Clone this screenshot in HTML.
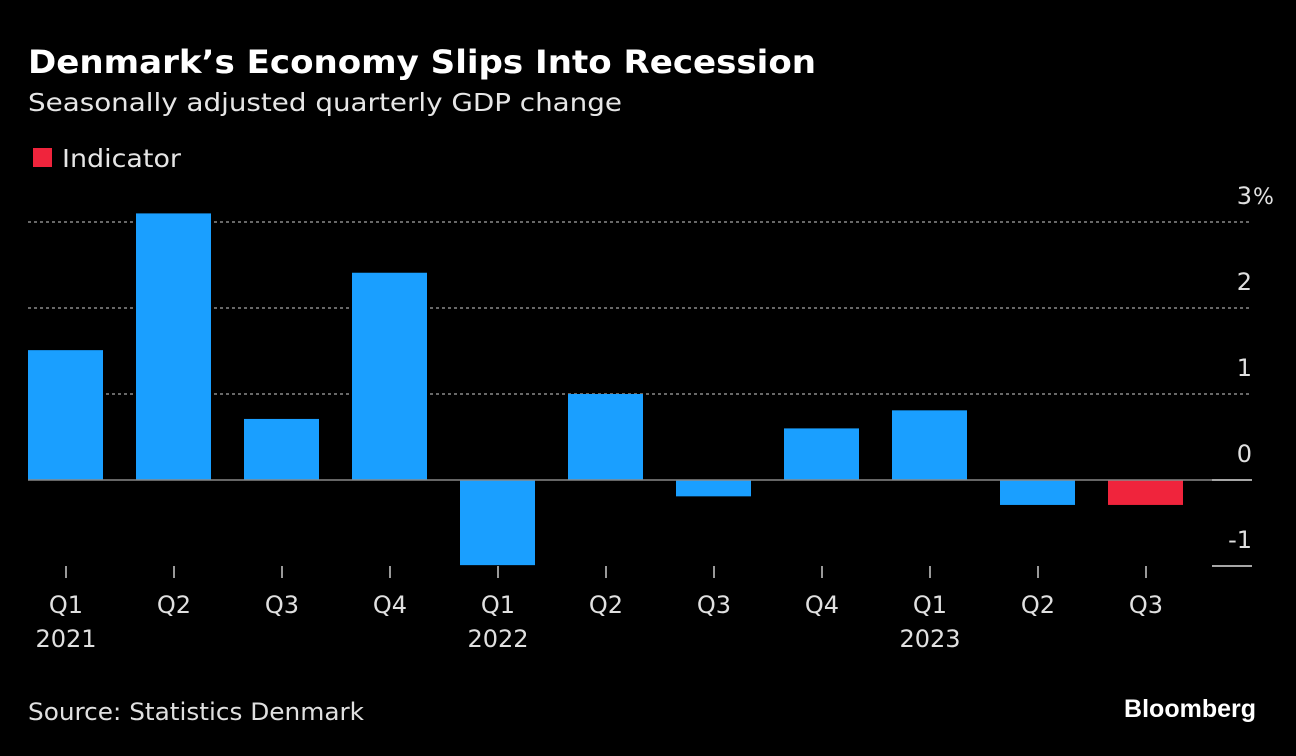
<!DOCTYPE html>
<html><head><meta charset="utf-8"><style>
body{margin:0;background:#000;width:1296px;height:752px;overflow:hidden;font-family:"DejaVu Sans","Liberation Sans",sans-serif;}
</style></head><body>
<svg width="1296" height="752" xmlns="http://www.w3.org/2000/svg">
<text x="28" y="73" font-size="32" font-weight="bold" fill="#fff" textLength="788" lengthAdjust="spacingAndGlyphs">Denmark’s Economy Slips Into Recession</text>
<text x="28" y="111" font-size="25" fill="#e6e6e6" textLength="594" lengthAdjust="spacingAndGlyphs">Seasonally adjusted quarterly GDP change</text>
<rect x="33" y="148" width="19" height="19" fill="#f0243c"/>
<text x="62" y="167" font-size="25" fill="#e6e6e6" textLength="119" lengthAdjust="spacingAndGlyphs">Indicator</text>
<g id="grid"></g><g id="bars"></g><g id="xaxis"></g>
<text x="28" y="720" font-size="24" fill="#e0e0e0" textLength="336" lengthAdjust="spacingAndGlyphs">Source: Statistics Denmark</text>
<text x="1256" y="717" font-size="25" font-weight="bold" fill="#fff" text-anchor="end" font-family="Liberation Sans">Bloomberg</text>
</svg>
<script>
const categories=["Q1","Q2","Q3","Q4","Q1","Q2","Q3","Q4","Q1","Q2","Q3"];
const years=["2021","","","","2022","","","","2023","",""];
const values=[1.51,3.1,0.71,2.41,-0.99,1.0,-0.19,0.6,0.81,-0.29,-0.29];
const highlight=[false,false,false,false,false,false,false,false,false,false,true];
const ticks=[-1,0,1,2,3];
const tickLabels=["-1","0","1","2","3"];
const NS="http://www.w3.org/2000/svg";
const y=v=>480-v*86;
const xc=i=>66+i*108;
function mk(t,a,p){const e=document.createElementNS(NS,t);for(const k in a)e.setAttribute(k,a[k]);p.appendChild(e);return e;}
const grid=document.getElementById('grid'),bars=document.getElementById('bars'),xa=document.getElementById('xaxis');
ticks.forEach((t,i)=>{
  if(t>0){const l=mk('line',{x1:28,x2:1252,y1:y(t),y2:y(t),stroke:'#8a8a8a','stroke-width':1.5,'stroke-dasharray':'3,3'},grid);
    
    }
  else{const l=mk('line',{x1:1212,x2:1252,y1:y(t),y2:y(t),stroke:'#ddd','stroke-width':1.5},grid);
    
    }
  const tx=mk('text',{x:1252,y:y(t)-18,'font-size':24,fill:'#e0e0e0','text-anchor':'end'},grid);
  tx.textContent=tickLabels[i];
  
  
  if(t===3){const p=mk('text',{x:1253,y:y(t)-18,'font-size':22,fill:'#e0e0e0'},grid);p.textContent='%';
    
    }
});
values.forEach((v,i)=>{
  const r=mk('rect',{x:xc(i)-38,width:75,y:Math.min(y(v),y(0)),height:Math.abs(y(v)-y(0)),fill:highlight[i]?'#f0243c':'#1a9fff'},bars);
  
  
  const tk=mk('line',{x1:xc(i),x2:xc(i),y1:566,y2:578,stroke:'#ccc','stroke-width':1.5},xa);
  
  
  const c=mk('text',{x:xc(i),y:613,'font-size':24,fill:'#e0e0e0','text-anchor':'middle'},xa);c.textContent=categories[i];
  
  
  if(years[i]){const yt=mk('text',{x:xc(i),y:647,'font-size':24,fill:'#e0e0e0','text-anchor':'middle'},xa);yt.textContent=years[i];
    
    }
});
const z=mk('line',{x1:28,x2:1212,y1:y(0),y2:y(0),stroke:'#888','stroke-width':1.5},bars);


</script>
</body></html>
